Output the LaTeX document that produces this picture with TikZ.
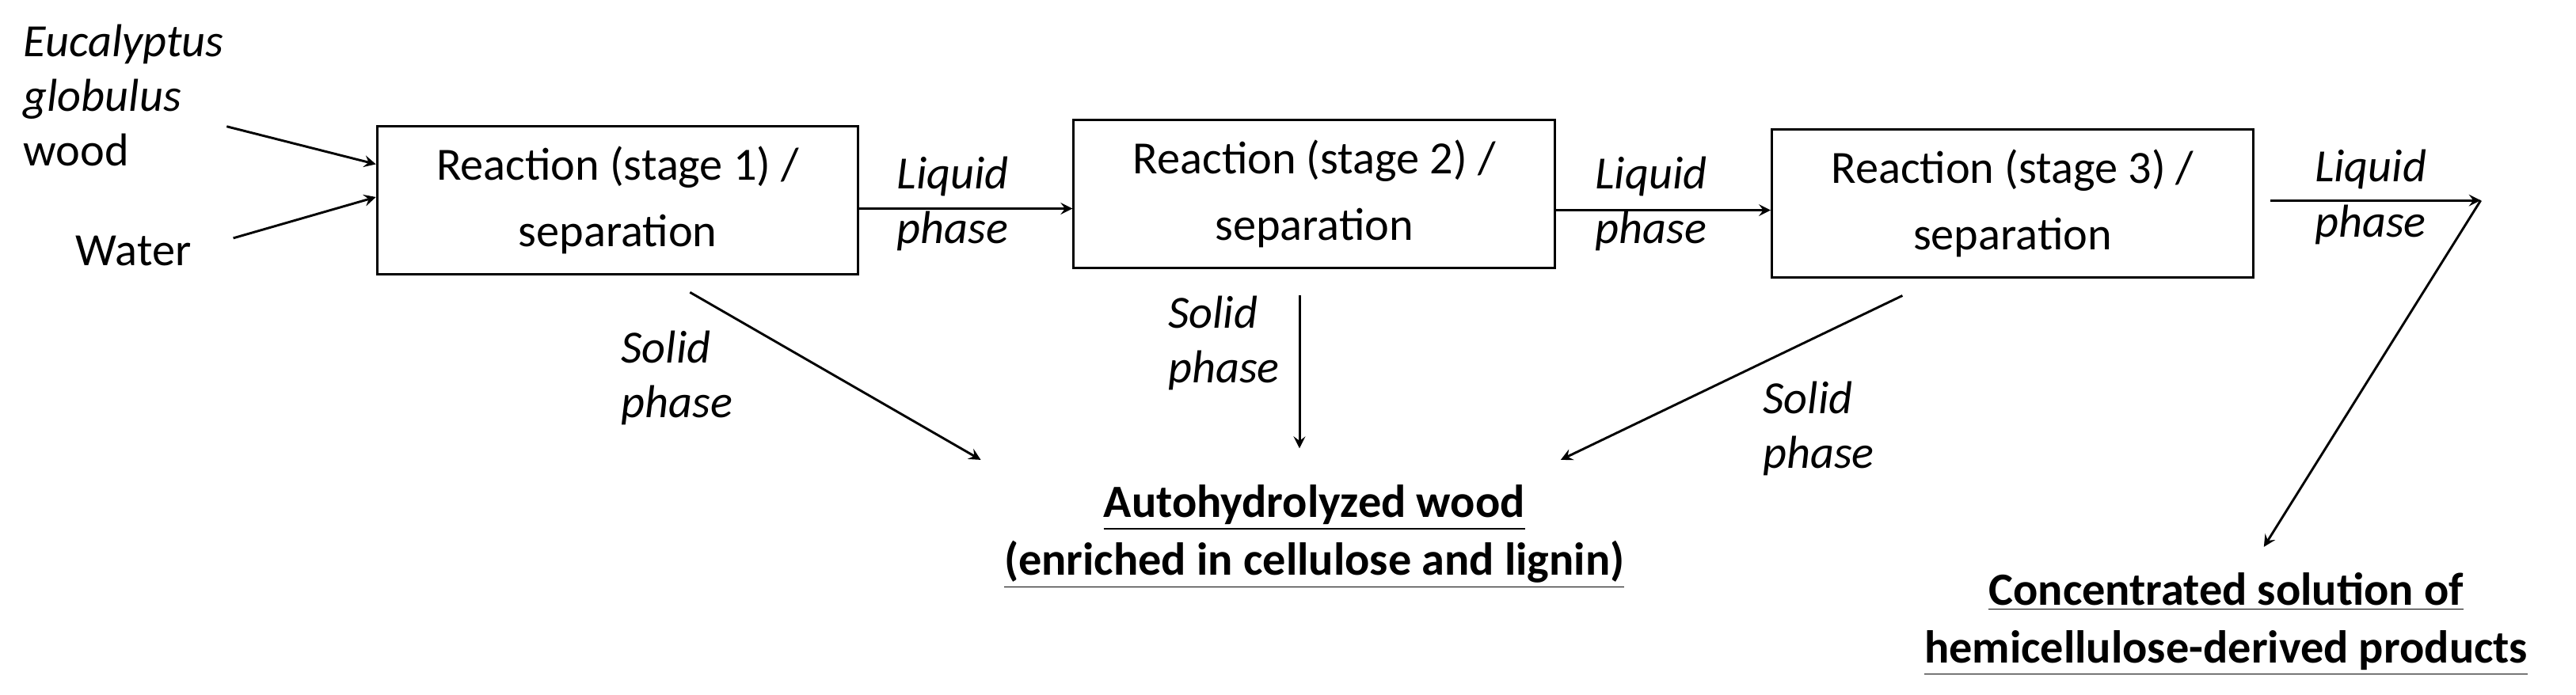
\documentclass[tikz,border=0pt]{standalone}
\usepackage{fontspec}
\setmainfont{Carlito}
\usetikzlibrary{positioning}
\begin{document}
\begin{tikzpicture}[x=0.02cm,y=-0.02cm,
  font=\fontsize{16}{19}\selectfont,
  box/.style={draw,thick,align=center,minimum width=5.86cm,minimum height=1.8cm},
  lbl/.style={align=left,font=\fontsize{16}{19}\selectfont\itshape},
  res/.style={align=center,font=\fontsize{16}{20}\selectfont\bfseries},
  arr/.style={->,thick,>=stealth}]
\useasboundingbox (0,0) rectangle (1568,423);
\node[box] (s1) at (376,122) {Reaction (stage 1) /\\[4pt]separation};
\node[box] (s2) at (800,118) {Reaction (stage 2) /\\[4pt]separation};
\node[box] (s3) at (1225,124) {Reaction (stage 3) /\\[4pt]separation};
% inputs
\node[lbl,anchor=west] (wood) at (8,58) {Eucalyptus\\globulus\\\upshape wood};
\node[anchor=west] (water) at (40,153) {Water};
\coordinate (w1) at (138,77);
\coordinate (w2) at (142,145);
\draw[arr] (w1) -- (s1.west|-0,100);
\draw[arr] (w2) -- (s1.west|-0,120);
% liquid phase
\node[lbl] (l1) at (580,124) {Liquid\\phase};
\node[lbl] (l2) at (1005,124) {Liquid\\phase};
\node[lbl] (l3) at (1443,120) {Liquid\\phase};
\draw[arr] (s1.east|-0,127) -- (s2.west|-0,127);
\draw[arr] (s2.east|-0,128) -- (s3.west|-0,128);
\coordinate (c1) at (1382,122);
\coordinate (c2) at (1510,122);
\draw[arr] (c1) -- (c2);
% products
\node[res] (ah) at (800,327) {\underline{Autohydrolyzed wood}\\\underline{(enriched in cellulose and lignin)}};
\node[res] (cs) at (1355,380) {\underline{Concentrated solution of}\\\underline{hemicellulose-derived products}};
\draw[arr] (c2) -- (1378,333);
% solid phase
\node[lbl] (p1) at (412,230) {Solid\\phase};
\node[lbl] (p2) at (745,209) {Solid\\phase};
\node[lbl] (p3) at (1107,261) {Solid\\phase};
\draw[arr] (420,178) -- (597,280);
\draw[arr] (791,180) -- (791,273);
\draw[arr] (1158,180) -- (950,280);
\end{tikzpicture}
\end{document}
